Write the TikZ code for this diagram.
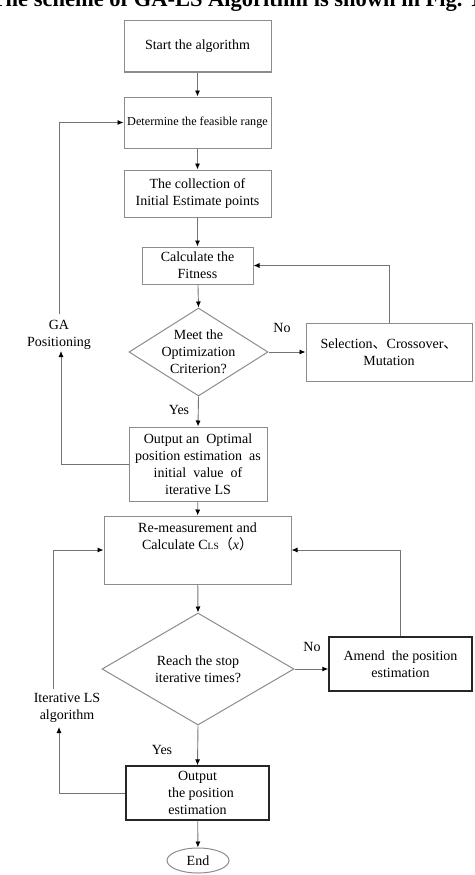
\documentclass[tikz,border=0pt]{standalone}
\usepackage{fontspec}
\setmainfont{Liberation Serif}
\newfontfamily\cjk{Noto Sans CJK SC}
\usetikzlibrary{shapes.geometric,arrows.meta}
\definecolor{boxgray}{gray}{0.55}
\definecolor{arrgray}{gray}{0.45}
\begin{document}
\begin{tikzpicture}[x=1pt,y=-1pt,
  box/.style={draw=boxgray,line width=1pt,rectangle,align=center,inner sep=0pt,font=\fontsize{14}{17}\selectfont},
  boldbox/.style={box,draw=black!85,line width=1.4pt},
  dia/.style={draw=boxgray,line width=1pt,diamond,inner sep=0pt},
  txt/.style={align=center,inner sep=0pt,font=\fontsize{14}{17}\selectfont},
  arr/.style={draw=arrgray,line width=0.9pt,-{Latex[length=6pt,width=5pt,color=black]}},
  ln/.style={draw=arrgray,line width=0.9pt}]
\useasboundingbox (0,0) rectangle (474,875);
\clip (0,0) rectangle (474,875);

\node[anchor=center,inner sep=0pt,font=\bfseries\fontsize{22.5}{23}\selectfont] (title) at (236,1) {The scheme of GA-LS Algorithm is shown in Fig. 1};

\node[box,minimum width=147,minimum height=51] (start) at (197.5,46.5) {Start the algorithm};
\node[box,minimum width=147,minimum height=51,font=\fontsize{12.2}{15}\selectfont] (det) at (197.5,122.5) {Determine the feasible range};
\node[box,minimum width=147,minimum height=47] (coll) at (197.5,193.5) {The collection of\\Initial Estimate points};
\node[box,minimum width=111,minimum height=37] (calc) at (197.5,265.5) {Calculate the\\Fitness};
\node[dia,minimum width=139,minimum height=88] (d1) at (198.5,352) {};
\node[txt] (d1t) at (198.5,352) {Meet the\\Optimization\\Criterion?};
\node[box,minimum width=166,minimum height=58] (sel) at (389,352) {Selection{\cjk 、}Crossover{\cjk 、}\\Mutation};
\node[box,minimum width=138,minimum height=74] (out1) at (198,464) {Output an\ \ Optimal\\position estimation\ \ as\\initial\ \ value\ \ of\\iterative LS};
\node[box,minimum width=187,minimum height=68] (re) at (197.5,550) {Re-measurement and\\Calculate C{\fontsize{9.5}{10}\selectfont LS}{\cjk （}\textit{x}{\cjk ）}\\[10pt]};
\node[dia,minimum width=192,minimum height=112] (d2) at (198,669) {};
\node[txt] (d2t) at (198,669) {Reach the stop\\iterative times?};
\node[boldbox,minimum width=143,minimum height=54] (amend) at (400.5,664) {Amend\ \ the position\\estimation};
\node[boldbox,minimum width=143,minimum height=54] (out2) at (197.5,793) {Output\\\ \ the position\\estimation};
\node[draw=boxgray,line width=1pt,ellipse,minimum width=62,minimum height=25,inner sep=0pt,font=\fontsize{14}{17}\selectfont] (end) at (198,860.5) {End};

\node[txt] (ga) at (59,335) {GA\\Positioning};
\node[txt] (it) at (67,708) {Iterative LS\\algorithm};
\node[txt] (no1) at (282,328) {No};
\node[txt] (yes1) at (179,410) {Yes};
\node[txt] (no2) at (312,647) {No};
\node[txt] (yes2) at (162,750) {Yes};

\coordinate (gatop) at (59,314);
\coordinate (gabot) at (61,351);
\coordinate (ittop) at (53,689);
\coordinate (itbot) at (59,727);

\draw[arr] (start) -- (det);
\draw[arr] (det) -- (coll);
\draw[arr] (coll) -- (calc);
\draw[arr] (calc) -- (d1.north);
\draw[arr] (d1.east) -- (sel.west);
\draw[arr] (sel.north) |- (calc.east);
\draw[arr] (d1.south) -- (out1.north);
\draw[arr] (out1.west) -| (gabot);
\draw[arr] (gatop) |- (det.west);
\draw[arr] (out1) -- (re);
\draw[arr] (re) -- (d2.north);
\draw[arr] (d2.east) -- (d2.east -| amend.west);
\draw[arr] (amend.north) |- (re.east);
\draw[arr] (d2.south) -- (out2.north);
\draw[arr] (out2.west) -| (itbot);
\draw[arr] (ittop) |- (re.west);
\draw[arr] (out2) -- (end);
\end{tikzpicture}
\end{document}
